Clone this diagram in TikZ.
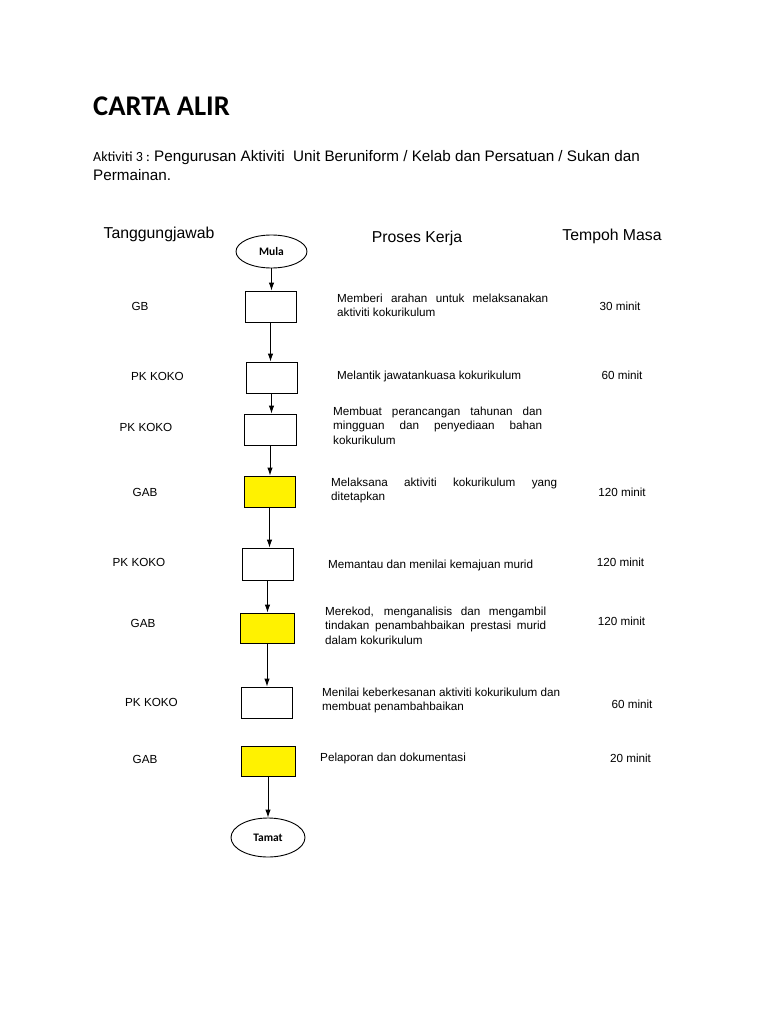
\documentclass[tikz,border=0pt]{standalone}
\usepackage{fontspec}
\setmainfont{Liberation Sans}
\newfontfamily\calfont{Carlito}
\usetikzlibrary{shapes.geometric,arrows.meta}
\newcommand{\jpar}[2]{\parbox[t]{#1pt}{\fontsize{11.7}{14.3}\selectfont\tolerance=10000\hyphenpenalty=10000\hfuzz=20pt\noindent #2}}
\tikzset{
  stepbox/.style={draw, line width=0.9pt, minimum width=51pt, minimum height=31pt, inner sep=0pt},
  ybox/.style={stepbox, fill=yellow},
  term/.style={draw, ellipse, line width=0.9pt, inner sep=0pt, font=\calfont\bfseries\fontsize{11.5}{13}\selectfont},
  flow/.style={line width=0.9pt, -{Latex[length=8pt,width=5.5pt]}},
  lbl/.style={inner sep=0pt, font=\fontsize{11.7}{14}\selectfont},
  hdr/.style={inner sep=0pt, font=\fontsize{15.8}{18}\selectfont},
}
\begin{document}
\begin{tikzpicture}[x=1pt,y=-1pt]
\useasboundingbox[fill=white] (0,0) rectangle (768,1024);
% title
\node[inner sep=0pt, anchor=base west, font=\calfont\bfseries\fontsize{28.5}{32}\selectfont] (title) at (93,116) {CARTA ALIR};
\node[inner sep=0pt, anchor=base west, font=\calfont\fontsize{14}{16}\selectfont] (akt) at (93,162) {Aktiviti 3 :};
\node[inner sep=0pt, anchor=base west, font=\fontsize{15.25}{18}\selectfont] (sub1) at (154,162) {Pengurusan Aktiviti\ \ Unit Beruniform / Kelab dan Persatuan / Sukan dan};
\node[inner sep=0pt, anchor=base west, font=\fontsize{15.25}{18}\selectfont] (sub2) at (93,181) {Permainan.};
% headers
\node[hdr] (h1) at (159,234) {Tanggungjawab};
\node[hdr] (h2) at (417,238) {Proses Kerja};
\node[hdr] (h3) at (612,236) {Tempoh Masa};
% flow shapes
\node[term, minimum width=71pt, minimum height=33pt] (mula) at (271.5,251.5) {Mula};
\node[stepbox] (b1) at (270.5,306.5) {};
\node[stepbox] (b2) at (271.5,377.5) {};
\node[stepbox, minimum width=52pt] (b3) at (270,429.5) {};
\node[ybox] (b4) at (269.5,491.5) {};
\node[stepbox, minimum height=32pt] (b5) at (267.5,564) {};
\node[ybox, minimum width=54pt, minimum height=30pt] (b6) at (267,628) {};
\node[stepbox] (b7) at (266.5,702.5) {};
\node[ybox, minimum width=54pt, minimum height=30pt] (b8) at (268,761) {};
\node[term, minimum width=74pt, minimum height=39pt] (tamat) at (268,837.5) {Tamat};
% connectors
\draw[flow] (mula.south) -- (mula.south |- b1.north);
\draw[flow] (b1.south) -- (b1.south |- b2.north);
\draw[flow] (b2.south) -- (b2.south |- b3.north);
\draw[flow] (b3.south) -- (b3.south |- b4.north);
\draw[flow] (b4.south) -- (b4.south |- b5.north);
\draw[flow] (b5.south) -- (b5.south |- b6.north);
\draw[flow] (b6.south) -- (b6.south |- b7.north);
\draw[flow] (b8.south) -- (b8.south |- tamat.north);
% responsibility
\node[lbl] (r1) at (140,306) {GB};
\node[lbl] (r2) at (157.5,376) {PK KOKO};
\node[lbl] (r3) at (146,427) {PK KOKO};
\node[lbl] (r4) at (145,492) {GAB};
\node[lbl] (r5) at (139,562) {PK KOKO};
\node[lbl] (r6) at (143,623) {GAB};
\node[lbl] (r7) at (151.5,702) {PK KOKO};
\node[lbl] (r8) at (145,759) {GAB};
% times
\node[lbl] (t1) at (620,306) {30 minit};
\node[lbl] (t2) at (622,375) {60 minit};
\node[lbl] (t4) at (622,492) {120 minit};
\node[lbl] (t5) at (620.5,562) {120 minit};
\node[lbl] (t6) at (621.5,621) {120 minit};
\node[lbl] (t7) at (632,704) {60 minit};
\node[lbl] (t8) at (630.5,758) {20 minit};
% process texts
\node[inner sep=0pt, anchor=north west] (p1) at (337,294) {\jpar{211}{Memberi arahan untuk melaksanakan\linebreak aktiviti kokurikulum}};
\node[lbl, anchor=west] (p2) at (337,376) {Melantik jawatankuasa kokurikulum};
\node[inner sep=0pt, anchor=north west] (p3) at (333,407) {\jpar{209}{Membuat perancangan tahunan dan\linebreak mingguan dan penyediaan bahan\linebreak kokurikulum}};
\node[inner sep=0pt, anchor=north west] (p4) at (331,478) {\jpar{226}{Melaksana aktiviti kokurikulum yang\linebreak ditetapkan}};
\node[lbl, anchor=west] (p5) at (328,565) {Memantau dan menilai kemajuan murid};
\node[inner sep=0pt, anchor=north west] (p6) at (325,607) {\jpar{221}{Merekod, menganalisis dan mengambil\linebreak tindakan penambahbaikan prestasi murid\linebreak dalam kokurikulum}};
\node[inner sep=0pt, anchor=north west] (p7) at (322,688) {\jpar{250}{Menilai keberkesanan aktiviti kokurikulum dan\\ membuat penambahbaikan}};
\node[lbl, anchor=west] (p8) at (320,758) {Pelaporan dan dokumentasi};
\end{tikzpicture}
\end{document}
